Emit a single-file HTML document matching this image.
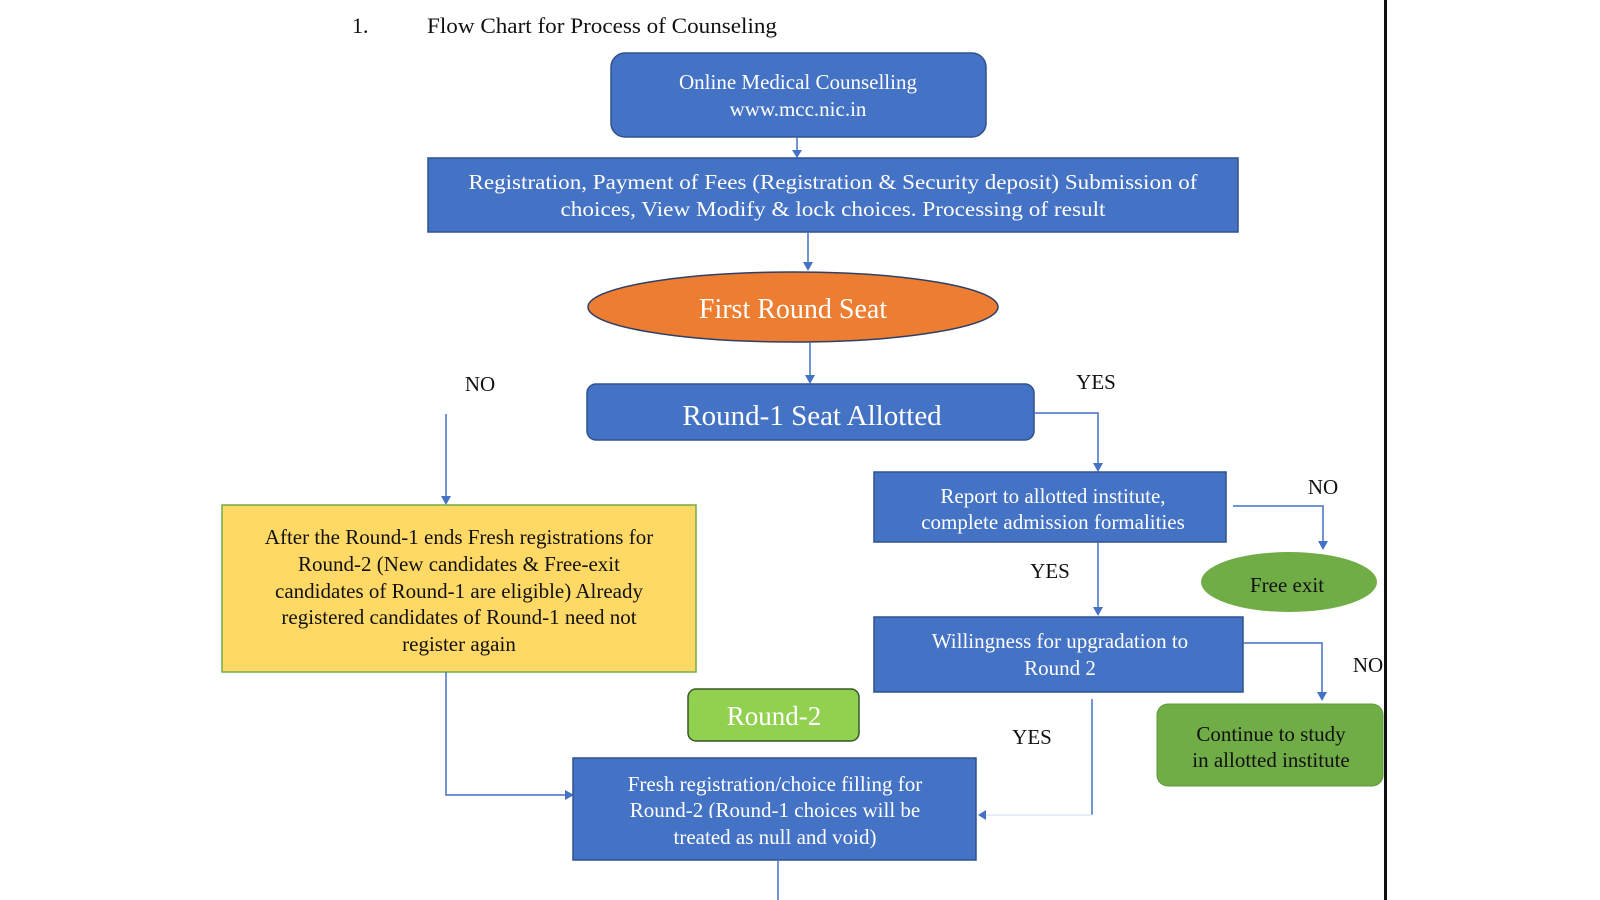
<!DOCTYPE html>
<html><head><meta charset="utf-8"><style>
html,body{margin:0;padding:0;background:#fff;}
svg{display:block;}
text{font-family:"Liberation Serif",serif;}
</style></head><body>
<svg width="1600" height="900" viewBox="0 0 1600 900" xmlns="http://www.w3.org/2000/svg">
<defs>
<marker id="a" markerWidth="10" markerHeight="10" refX="5" refY="8" orient="auto" markerUnits="userSpaceOnUse" viewBox="0 0 10 10">
<path d="M0,0 L10,0 L5,10 z" fill="#4472C4" transform="rotate(0)"/>
</marker>
</defs>
<style>
.ln{stroke:#4472C4;stroke-width:1.5;fill:none;}
.w{fill:#fff;text-anchor:middle;}
.k{fill:#111;text-anchor:middle;}
</style>
<!-- right border line -->
<rect x="1384" y="0" width="3" height="900" fill="#111"/>
<!-- title -->
<text x="352" y="33" font-size="22" fill="#111">1.</text>
<text x="427" y="33" font-size="22" fill="#111" textLength="350" lengthAdjust="spacingAndGlyphs">Flow Chart for Process of Counseling</text>

<!-- Online box -->
<rect x="611" y="53" width="375" height="84" rx="14" fill="#4472C4" stroke="#2F528F" stroke-width="1.5"/>
<text class="w" x="798" y="89" font-size="21">Online Medical Counselling</text>
<text class="w" x="798" y="116" font-size="21">www.mcc.nic.in</text>
<!-- arrows -->
<path class="ln" d="M797 137 V154"/><path d="M792 150 L802 150 L797 158 z" fill="#4472C4"/>

<!-- Registration -->
<rect x="428" y="158" width="810" height="74" fill="#4472C4" stroke="#2F528F" stroke-width="1.5"/>
<text class="w" x="833" y="189" font-size="21" textLength="729" lengthAdjust="spacingAndGlyphs">Registration, Payment of Fees (Registration &amp; Security deposit) Submission of</text>
<text class="w" x="833" y="216" font-size="21" textLength="545" lengthAdjust="spacingAndGlyphs">choices, View Modify &amp; lock choices. Processing of result</text>
<path class="ln" d="M808 232 V266"/><path d="M803 262 L813 262 L808 271 z" fill="#4472C4"/>

<!-- First Round Seat -->
<ellipse cx="793" cy="307" rx="205" ry="35" fill="#ED7D31" stroke="#2F3F66" stroke-width="1.5"/>
<text class="w" x="793" y="318" font-size="28">First Round Seat</text>
<path class="ln" d="M810 342 V379"/><path d="M805 375 L815 375 L810 384 z" fill="#4472C4"/>

<!-- Round-1 -->
<rect x="587" y="384" width="447" height="56" rx="9" fill="#4472C4" stroke="#2F528F" stroke-width="1.5"/>
<text class="w" x="812" y="425" font-size="29">Round-1 Seat Allotted</text>
<text class="k" x="480" y="391" font-size="21">NO</text>
<text class="k" x="1096" y="389" font-size="21">YES</text>

<!-- YES path -->
<path class="ln" d="M1034 413 H1098 V467"/><path d="M1093 463 L1103 463 L1098 472 z" fill="#4472C4"/>
<!-- NO path -->
<path class="ln" d="M446 414 V500"/><path d="M441 496 L451 496 L446 505 z" fill="#4472C4"/>

<!-- Yellow box -->
<rect x="222" y="505" width="474" height="167" fill="#FFD966" stroke="#70AD47" stroke-width="1.5"/>
<text class="k" x="459" y="544" font-size="21">After the Round-1 ends Fresh registrations for</text>
<text class="k" x="459" y="571" font-size="21">Round-2 (New candidates &amp; Free-exit</text>
<text class="k" x="459" y="598" font-size="21">candidates of Round-1 are eligible) Already</text>
<text class="k" x="459" y="624" font-size="21">registered candidates of Round-1 need not</text>
<text class="k" x="459" y="651" font-size="21">register again</text>

<!-- Report box -->
<rect x="874" y="472" width="352" height="70" fill="#4472C4" stroke="#2F528F" stroke-width="1.5"/>
<text class="w" x="1053" y="503" font-size="21">Report to allotted institute,</text>
<text class="w" x="1053" y="529" font-size="21">complete admission formalities</text>
<text class="k" x="1323" y="494" font-size="21">NO</text>
<path class="ln" d="M1233 506 H1323 V544"/><path d="M1318 541 L1328 541 L1323 550 z" fill="#4472C4"/>
<ellipse cx="1289" cy="582" rx="88" ry="30" fill="#70AD47"/>
<text class="k" x="1287" y="592" font-size="21">Free exit</text>

<text class="k" x="1050" y="578" font-size="21">YES</text>
<path class="ln" d="M1098 542 V611"/><path d="M1093 607 L1103 607 L1098 616 z" fill="#4472C4"/>

<!-- Willingness -->
<rect x="874" y="617" width="369" height="75" fill="#4472C4" stroke="#2F528F" stroke-width="1.5"/>
<text class="w" x="1060" y="648" font-size="21">Willingness for upgradation to</text>
<text class="w" x="1060" y="675" font-size="21">Round 2</text>
<path class="ln" d="M1243 643 H1322 V696"/><path d="M1317 692 L1327 692 L1322 701 z" fill="#4472C4"/>
<text class="k" x="1368" y="672" font-size="21">NO</text>

<!-- Continue -->
<rect x="1157" y="704" width="226" height="82" rx="11" fill="#70AD47" stroke="#5E9A3A" stroke-width="1"/>
<text class="k" x="1271" y="741" font-size="21">Continue to study</text>
<text class="k" x="1271" y="767" font-size="21">in allotted institute</text>

<!-- Round-2 -->
<rect x="688" y="689" width="171" height="52" rx="8" fill="#92D050" stroke="#38562A" stroke-width="1.5"/>
<text class="w" x="774" y="725" font-size="27" fill="#f4ffe8">Round-2</text>
<text class="k" x="1032" y="744" font-size="21">YES</text>

<!-- Yes from willingness to fresh -->
<path class="ln" d="M1092 699 V815"/>
<path d="M1092 815 H985" stroke="#dfe6f2" stroke-width="1.5" fill="none"/>
<path d="M978 815 L986 810 L986 820 z" fill="#4472C4"/>

<!-- Yellow to fresh -->
<path class="ln" d="M446 672 V795 H568"/><path d="M565 790 L574 795 L565 800 z" fill="#4472C4"/>

<!-- Fresh box -->
<rect x="573" y="758" width="403" height="102" fill="#4472C4" stroke="#2F528F" stroke-width="1.5"/>
<text class="w" x="775" y="791" font-size="21">Fresh registration/choice filling for</text>
<text class="w" x="775" y="817" font-size="21">Round-2 (Round-1 choices will be</text>
<rect x="580" y="818" width="390" height="4" fill="#4472C4"/>
<text class="w" x="775" y="844" font-size="21">treated as null and void)</text>
<path class="ln" d="M778 860 V900"/>
</svg>
</body></html>
